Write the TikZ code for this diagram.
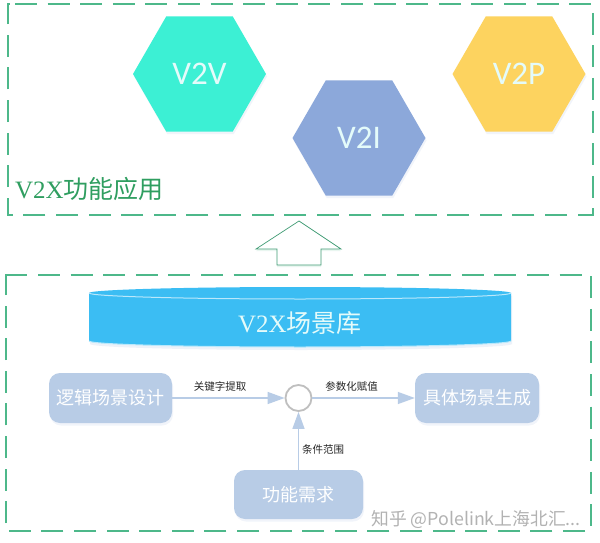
\documentclass[tikz,border=0pt]{standalone}
\usepackage{fontspec}
\setmainfont{Liberation Serif}
\newfontfamily\cjk{Noto Sans CJK SC}
\newfontfamily\lat{Carlito}
\usetikzlibrary{shapes.geometric,shadows,arrows.meta}
\definecolor{dashgreen}{HTML}{4DB88A}
\definecolor{titlegreen}{HTML}{2F9E60}
\definecolor{boxblue}{HTML}{B8CCE6}
\definecolor{cylblue}{HTML}{3BBDF3}
\definecolor{hexteal}{HTML}{3CF0D4}
\definecolor{hexblue}{HTML}{8CA8DA}
\definecolor{hexyellow}{HTML}{FDD35F}
\definecolor{hextext}{HTML}{E4FBFA}
\tikzset{
  softshadow/.style={drop shadow={shadow xshift=1pt,shadow yshift=-2.5pt,opacity=.12,fill=hexblue}},
  hexnode/.style={regular polygon,regular polygon sides=6,inner sep=0pt,minimum size=133pt,text=hextext,font=\lat\fontsize{33}{33}\selectfont,softshadow},
  groupbox/.style={draw=dashgreen,line width=1.4pt,dash pattern=on 22pt off 10.6pt},
  flowbox/.style={rounded corners=11pt,fill=boxblue,text=white,inner sep=0pt,font=\cjk\fontsize{18}{18}\selectfont,softshadow},
  flowline/.style={draw=boxblue,line width=1.3pt,-{Triangle[length=17pt,width=12pt]}},
  flowlabel/.style={font=\cjk\fontsize{10.5}{11}\selectfont,text=black!85},
}
\begin{document}
\begin{tikzpicture}[x=1pt,y=-1pt]
\useasboundingbox (0,0) rectangle (600,543);
\fill[white] (0,0) rectangle (600,543);
% group frames
\draw[groupbox] (15,4) -- (593,4) -- (593,215) -- (8,215) -- (8,4) -- (15,4);
\draw[groupbox] (5.4,275) -- (591,275) -- (591,531) -- (6,531) -- (6,275);
% hexagons
\node[hexnode,fill=hexteal] (v2v) at (199.5,74) {V2V};
\node[hexnode,fill=hexblue] (v2i) at (359,138) {V2I};
\node[hexnode,fill=hexyellow] (v2p) at (519,74) {V2P};
\node[anchor=base west,inner sep=0pt,text=titlegreen,font=\fontsize{25}{25}\selectfont] (apptitle) at (15,198) {V2X{\cjk 功能应用}};
% hollow arrow
\draw[draw=dashgreen!85!black,line width=.7pt,fill=white,drop shadow={shadow xshift=0pt,shadow yshift=-2pt,opacity=.12,fill=dashgreen}]
  (299,221) -- (341,249) -- (321,249) -- (321,265) -- (277,265) -- (277,249) -- (256,249) -- cycle;
% scenario library cylinder
\path[fill=cylblue,drop shadow={shadow xshift=1pt,shadow yshift=-3pt,opacity=.15,fill=hexblue}]
  (89,293) .. controls (89,289.7) and (183.5,287) .. (300,287)
  .. controls (416.5,287) and (511,289.7) .. (511,293)
  -- (511,341) .. controls (511,344.3) and (416.5,347) .. (300,347)
  .. controls (183.5,347) and (89,344.3) .. (89,341) -- cycle;
\draw[draw=white!65!cylblue,line width=1pt]
  (89,293) .. controls (89,296.3) and (183.5,299) .. (300,299)
  .. controls (416.5,299) and (511,296.3) .. (511,293);
\draw[draw=white!65!cylblue,line width=1pt]
  (89,341) .. controls (89,344.3) and (183.5,347) .. (300,347)
  .. controls (416.5,347) and (511,344.3) .. (511,341);
\node[inner sep=0pt,text=hextext,font=\fontsize{25}{25}\selectfont] (lib) at (300,323) {V2X{\cjk 场景库}};
% flow
\node[flowbox,minimum width=123pt,minimum height=50pt] (logic) at (110.5,398) {逻辑场景设计};
\node[flowbox,minimum width=124pt,minimum height=50pt] (concrete) at (477,398) {具体场景生成};
\node[flowbox,minimum width=129pt,minimum height=49pt] (need) at (298.5,494.5) {功能需求};
\node[circle,draw=black!25,fill=white,line width=1.8pt,minimum size=26pt,inner sep=0pt] (hub) at (298.5,398) {};
\draw[flowline] (logic) -- (hub);
\draw[flowline] (hub) -- (concrete);
\draw[flowline] (need) -- (hub);
\node[flowlabel] (kw) at (220,386.5) {关键字提取};
\node[flowlabel] (param) at (351.5,386.5) {参数化赋值};
\node[flowlabel] (cond) at (323,449) {条件范围};
% watermark
\node[anchor=base west,inner sep=0pt,text=black!30,font=\cjk\fontsize{17.8}{18}\selectfont] (mark) at (371,525) {知乎 @Polelink上海北汇...};
\end{tikzpicture}
\end{document}
